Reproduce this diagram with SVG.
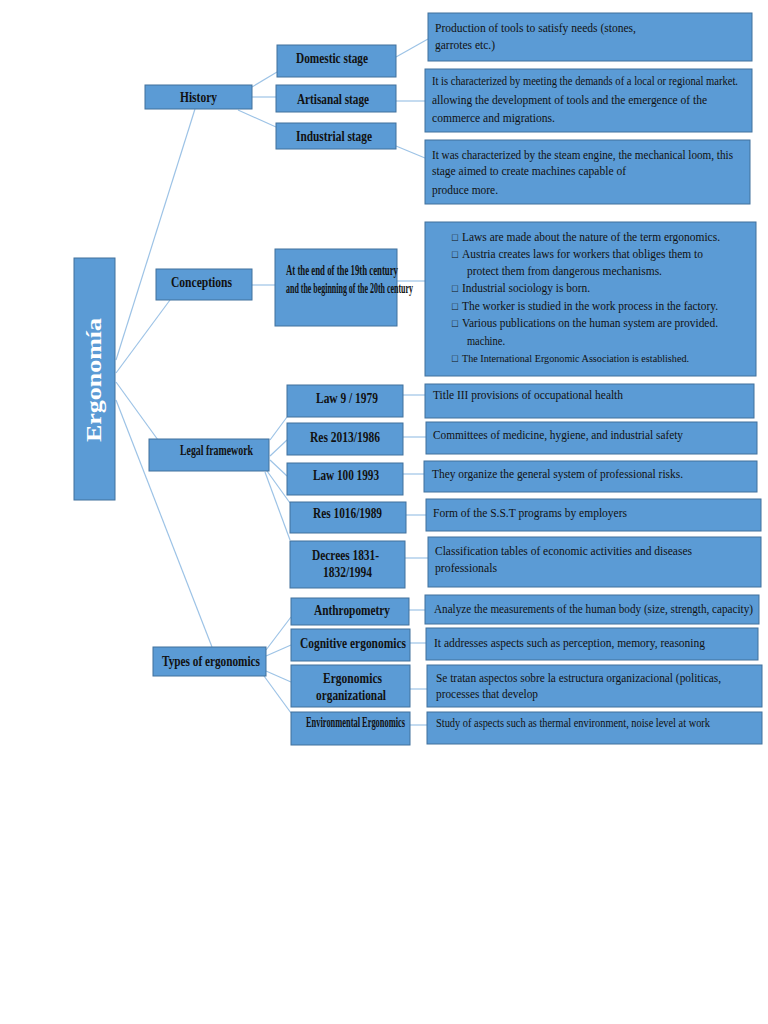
<svg xmlns="http://www.w3.org/2000/svg" width="768" height="1024" viewBox="0 0 768 1024">
<style>
.b{fill:#5B9BD5;stroke:#41719C;stroke-width:1}
.t{font-family:"Liberation Serif",serif;font-weight:bold;font-size:14px;fill:#111;text-anchor:start}
.d{font-family:"Liberation Serif",serif;font-size:13px;fill:#111}
.c line{stroke:#9DC3E6;stroke-width:1.2}
.k{font-size:11px}
</style>
<rect width="768" height="1024" fill="#fff"/>
<g class="c" id="connectors">
<line x1="116" y1="360" x2="195" y2="109"/>
<line x1="116" y1="373" x2="170" y2="300"/>
<line x1="116" y1="382" x2="158" y2="440"/>
<line x1="116" y1="400" x2="212" y2="647"/>
<line x1="252" y1="87" x2="277" y2="72"/>
<line x1="252" y1="97" x2="276" y2="97"/>
<line x1="238" y1="110" x2="276" y2="127"/>
<line x1="396" y1="57" x2="428" y2="39"/>
<line x1="396" y1="101" x2="425" y2="101"/>
<line x1="396" y1="146" x2="425" y2="158"/>
<line x1="252" y1="285" x2="275" y2="285"/>
<line x1="397" y1="281" x2="425" y2="281"/>
<line x1="270" y1="440" x2="287" y2="417"/>
<line x1="270" y1="456" x2="287" y2="440"/>
<line x1="270" y1="460" x2="287" y2="476"/>
<line x1="267" y1="471" x2="290" y2="503"/>
<line x1="265" y1="472" x2="290" y2="540"/>
<line x1="403" y1="395" x2="425" y2="395"/>
<line x1="403" y1="437" x2="426" y2="437"/>
<line x1="403" y1="474" x2="424" y2="474"/>
<line x1="406" y1="515" x2="426" y2="515"/>
<line x1="405" y1="558" x2="428" y2="558"/>
<line x1="266" y1="650" x2="291" y2="617"/>
<line x1="266" y1="656" x2="291" y2="645"/>
<line x1="266" y1="671" x2="291" y2="682"/>
<line x1="264" y1="676" x2="291" y2="713"/>
<line x1="409" y1="610" x2="426" y2="610"/>
<line x1="410" y1="643" x2="426" y2="643"/>
<line x1="410" y1="689" x2="428" y2="689"/>
<line x1="410" y1="725" x2="428" y2="725"/>
</g>
<g id="ergonomia"><rect class="b" x="74" y="258" width="41" height="242"/>
<text x="0" y="0" transform="translate(101,380) rotate(-90)" text-anchor="middle" font-family="Liberation Serif,serif" font-weight="bold" font-size="21" fill="#fff" textLength="124" lengthAdjust="spacingAndGlyphs">Ergonomía</text></g>
<g id="history"><rect class="b" x="145" y="85" width="107" height="24"/><text class="t" x="180" y="102" textLength="37" lengthAdjust="spacingAndGlyphs">History</text></g>
<g id="domestic"><rect class="b" x="277" y="45" width="119" height="32"/><text class="t" x="296" y="63" textLength="72" lengthAdjust="spacingAndGlyphs">Domestic stage</text></g>
<g id="artisanal"><rect class="b" x="276" y="85" width="120" height="27"/><text class="t" x="297" y="104" textLength="72" lengthAdjust="spacingAndGlyphs">Artisanal stage</text></g>
<g id="industrial"><rect class="b" x="276" y="123" width="120" height="26"/><text class="t" x="296" y="141" textLength="76" lengthAdjust="spacingAndGlyphs">Industrial stage</text></g>
<g id="desc-domestic"><rect class="b" x="428" y="13" width="324" height="48"/>
<text class="d" x="435" y="32" textLength="201" lengthAdjust="spacingAndGlyphs">Production of tools to satisfy needs (stones,</text>
<text class="d" x="435" y="49" textLength="60" lengthAdjust="spacingAndGlyphs">garrotes etc.)</text></g>
<g id="desc-artisanal"><rect class="b" x="425" y="69" width="327" height="63"/>
<text class="d" x="432" y="85" font-size="12" textLength="306" lengthAdjust="spacingAndGlyphs">It is characterized by meeting the demands of a local or regional market.</text>
<text class="d" x="432" y="104" textLength="275" lengthAdjust="spacingAndGlyphs">allowing the development of tools and the emergence of the</text>
<text class="d" x="432" y="122" textLength="123" lengthAdjust="spacingAndGlyphs">commerce and migrations.</text></g>
<g id="desc-industrial"><rect class="b" x="425" y="140" width="325" height="64"/>
<text class="d" x="432" y="159" textLength="301" lengthAdjust="spacingAndGlyphs">It was characterized by the steam engine, the mechanical loom, this</text>
<text class="d" x="432" y="175" textLength="194" lengthAdjust="spacingAndGlyphs">stage aimed to create machines capable of</text>
<text class="d" x="432" y="194" textLength="66" lengthAdjust="spacingAndGlyphs">produce more.</text></g>
<g id="conceptions"><rect class="b" x="156" y="269" width="96" height="31"/><text class="t" x="171" y="287" textLength="61" lengthAdjust="spacingAndGlyphs">Conceptions</text></g>
<g id="century"><rect class="b" x="275" y="249" width="122" height="77"/>
<text class="t" x="286" y="275" font-size="10" textLength="112" lengthAdjust="spacingAndGlyphs">At the end of the 19th century</text>
<text class="t" x="286" y="293" font-size="9" textLength="127" lengthAdjust="spacingAndGlyphs">and the beginning of the 20th century</text></g>
<g id="desc-conceptions"><rect class="b" x="425" y="222" width="331" height="154"/>
<g class="d" font-size="13">
<text class="k" x="452" y="241" textLength="6" lengthAdjust="spacingAndGlyphs">□</text><text x="462" y="241" textLength="258" lengthAdjust="spacingAndGlyphs">Laws are made about the nature of the term ergonomics.</text>
<text class="k" x="452" y="258" textLength="6" lengthAdjust="spacingAndGlyphs">□</text><text x="462" y="258" textLength="241" lengthAdjust="spacingAndGlyphs">Austria creates laws for workers that obliges them to</text>
<text x="467" y="275" textLength="195" lengthAdjust="spacingAndGlyphs">protect them from dangerous mechanisms.</text>
<text class="k" x="452" y="292" textLength="6" lengthAdjust="spacingAndGlyphs">□</text><text x="462" y="292" textLength="128" lengthAdjust="spacingAndGlyphs">Industrial sociology is born.</text>
<text class="k" x="452" y="310" textLength="6" lengthAdjust="spacingAndGlyphs">□</text><text x="462" y="310" textLength="256" lengthAdjust="spacingAndGlyphs">The worker is studied in the work process in the factory.</text>
<text class="k" x="452" y="327" textLength="6" lengthAdjust="spacingAndGlyphs">□</text><text x="462" y="327" textLength="256" lengthAdjust="spacingAndGlyphs">Various publications on the human system are provided.</text>
<text x="467" y="345" textLength="38" lengthAdjust="spacingAndGlyphs">machine.</text>
<text class="k" x="452" y="362" textLength="6" lengthAdjust="spacingAndGlyphs">□</text><text x="462" y="362" font-size="11" textLength="227" lengthAdjust="spacingAndGlyphs">The International Ergonomic Association is established.</text>
</g></g>
<g id="legal"><rect class="b" x="149" y="439" width="120" height="32"/><text class="t" x="180" y="455" font-size="12" textLength="73" lengthAdjust="spacingAndGlyphs">Legal framework</text></g>
<g id="law9"><rect class="b" x="287" y="385" width="116" height="32"/><text class="t" x="316" y="403" textLength="62" lengthAdjust="spacingAndGlyphs">Law 9 / 1979</text></g>
<g id="res2013"><rect class="b" x="287" y="423" width="116" height="32"/><text class="t" x="310" y="442" textLength="70" lengthAdjust="spacingAndGlyphs">Res 2013/1986</text></g>
<g id="law100"><rect class="b" x="287" y="463" width="116" height="32"/><text class="t" x="313" y="480" textLength="66" lengthAdjust="spacingAndGlyphs">Law 100 1993</text></g>
<g id="res1016"><rect class="b" x="290" y="502" width="116" height="31"/><text class="t" x="313" y="518" textLength="69" lengthAdjust="spacingAndGlyphs">Res 1016/1989</text></g>
<g id="decrees"><rect class="b" x="290" y="541" width="115" height="47"/>
<text class="t" x="312" y="560" textLength="67" lengthAdjust="spacingAndGlyphs">Decrees 1831-</text>
<text class="t" x="323" y="577" textLength="49" lengthAdjust="spacingAndGlyphs">1832/1994</text></g>
<g id="desc-law9"><rect class="b" x="425" y="384" width="329" height="34"/><text class="d" x="433" y="399" textLength="190" lengthAdjust="spacingAndGlyphs">Title III provisions of occupational health</text></g>
<g id="desc-res2013"><rect class="b" x="426" y="422" width="331" height="32"/><text class="d" x="433" y="439" textLength="250" lengthAdjust="spacingAndGlyphs">Committees of medicine, hygiene, and industrial safety</text></g>
<g id="desc-law100"><rect class="b" x="424" y="461" width="333" height="31"/><text class="d" x="432" y="478" textLength="251" lengthAdjust="spacingAndGlyphs">They organize the general system of professional risks.</text></g>
<g id="desc-res1016"><rect class="b" x="426" y="499" width="335" height="32"/><text class="d" x="433" y="517" textLength="194" lengthAdjust="spacingAndGlyphs">Form of the S.S.T programs by employers</text></g>
<g id="desc-decrees"><rect class="b" x="428" y="537" width="333" height="50"/>
<text class="d" x="435" y="555" textLength="257" lengthAdjust="spacingAndGlyphs">Classification tables of economic activities and diseases</text>
<text class="d" x="435" y="572" textLength="62" lengthAdjust="spacingAndGlyphs">professionals</text></g>
<g id="types"><rect class="b" x="153" y="647" width="113" height="29"/><text class="t" x="162" y="666" textLength="98" lengthAdjust="spacingAndGlyphs">Types of ergonomics</text></g>
<g id="anthropometry"><rect class="b" x="291" y="598" width="118" height="27"/><text class="t" x="314" y="615" textLength="76" lengthAdjust="spacingAndGlyphs">Anthropometry</text></g>
<g id="cognitive"><rect class="b" x="291" y="629" width="119" height="32"/><text class="t" x="300" y="648" textLength="106" lengthAdjust="spacingAndGlyphs">Cognitive ergonomics</text></g>
<g id="organizational"><rect class="b" x="291" y="665" width="119" height="42"/>
<text class="t" x="323" y="683" textLength="59" lengthAdjust="spacingAndGlyphs">Ergonomics</text>
<text class="t" x="316" y="700" textLength="70" lengthAdjust="spacingAndGlyphs">organizational</text></g>
<g id="environmental"><rect class="b" x="291" y="712" width="119" height="33"/><text class="t" x="306" y="727" font-size="9" textLength="99" lengthAdjust="spacingAndGlyphs">Environmental Ergonomics</text></g>
<g id="desc-anthro"><rect class="b" x="425" y="595" width="334" height="29"/><text class="d" x="434" y="613" textLength="319" lengthAdjust="spacingAndGlyphs">Analyze the measurements of the human body (size, strength, capacity)</text></g>
<g id="desc-cognitive"><rect class="b" x="426" y="628" width="332" height="32"/><text class="d" x="434" y="647" textLength="271" lengthAdjust="spacingAndGlyphs">It addresses aspects such as perception, memory, reasoning</text></g>
<g id="desc-org"><rect class="b" x="427" y="665" width="335" height="42"/>
<text class="d" x="436" y="682" textLength="285" lengthAdjust="spacingAndGlyphs">Se tratan aspectos sobre la estructura organizacional (politicas,</text>
<text class="d" x="436" y="698" textLength="102" lengthAdjust="spacingAndGlyphs">processes that develop</text></g>
<g id="desc-env"><rect class="b" x="427" y="712" width="335" height="32"/><text class="d" x="436" y="727" textLength="274" lengthAdjust="spacingAndGlyphs">Study of aspects such as thermal environment, noise level at work</text></g>
</svg>
